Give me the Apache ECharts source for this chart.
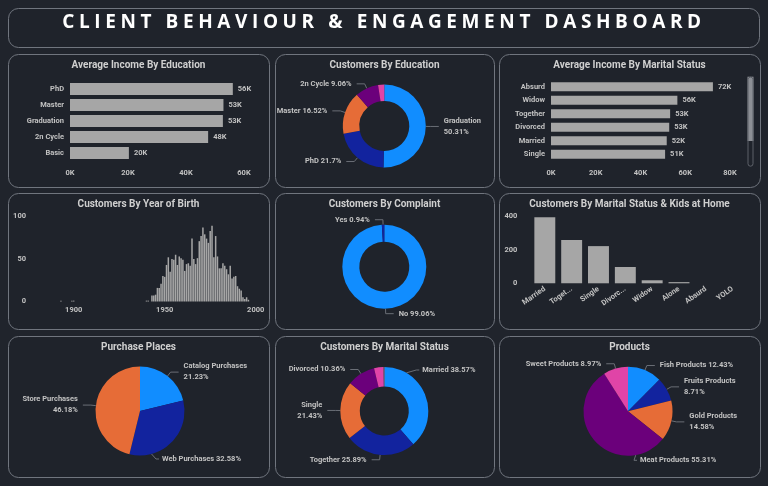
<!DOCTYPE html>
<html>
<head>
<meta charset="utf-8">
<script src="https://cdn.jsdelivr.net/npm/echarts@6/dist/echarts.min.js"></script>
<style>
html, body { margin: 0; padding: 0; background: #20242c; }
#main { width: 768px; height: 486px; position: relative; }
#chart { width: 768px; height: 486px; }
#title {
  position: absolute; left: 8px; top: 8px; width: 752px; height: 39px; line-height: 39px;
  text-align: center; color: #ffffff; font: bold 19px 'Open Sans', sans-serif;
  letter-spacing: 4.6px; pointer-events: none;
}
</style>
</head>
<body>
<div id="main">
  <div id="chart"></div>
  <div id="title">CLIENT BEHAVIOUR &amp; ENGAGEMENT DASHBOARD</div>
</div>
<script>
// ---- data ----
var eduIncomeCats = ['PhD', 'Master', 'Graduation', '2n Cycle', 'Basic'];
var eduIncome = [56145, 52917, 52720, 47633, 20306];

var eduCats = ['Graduation', 'PhD', 'Master', '2n Cycle', 'Basic'];
var eduCounts = [1127, 486, 370, 203, 54];

var maritalIncomeCats = ['Absurd', 'Widow', 'Together', 'Divorced', 'Married', 'Single', 'YOLO', 'Alone'];
var maritalIncome = [72365, 56481, 53245, 52834, 51724, 50995, 48432, 43789];

var birthYears = [1893, 1899, 1900, 1940, 1941, 1943, 1944, 1945, 1946, 1947, 1948, 1949,
  1950, 1951, 1952, 1953, 1954, 1955, 1956, 1957, 1958, 1959,
  1960, 1961, 1962, 1963, 1964, 1965, 1966, 1967, 1968, 1969,
  1970, 1971, 1972, 1973, 1974, 1975, 1976, 1977, 1978, 1979,
  1980, 1981, 1982, 1983, 1984, 1985, 1986, 1987, 1988, 1989,
  1990, 1991, 1992, 1993, 1994, 1995, 1996];
var birthCounts = [1, 1, 1, 1, 1, 7, 7, 8, 16, 16, 21, 30,
  29, 43, 52, 35, 50, 49, 55, 43, 53, 51,
  49, 36, 44, 45, 42, 74, 50, 44, 51, 71,
  77, 87, 79, 74, 69, 83, 89, 52, 77, 53,
  39, 39, 45, 42, 38, 32, 42, 27, 29, 30,
  18, 15, 13, 5, 3, 5, 2];
var birthTicks = [1900, 1950, 2000];

var complaintCats = ['No', 'Yes'];
var complaintCounts = [2219, 21];

var kidsCats = ['Married', 'Together', 'Single', 'Divorced', 'Widow', 'Alone', 'Absurd', 'YOLO'];
var kidsCounts = [392, 257, 221, 97, 18, 7, 0, 0];

var placeCats = ['Catalog Purchases', 'Web Purchases', 'Store Purchases'];
var placeCounts = [5963, 9150, 12970];

var maritalCats = ['Married', 'Together', 'Single', 'Divorced', 'Widow', 'Alone', 'Absurd', 'YOLO'];
var maritalCounts = [864, 580, 480, 232, 77, 3, 2, 2];

var productCats = ['Fish Products', 'Fruits Products', 'Gold Products', 'Meat Products', 'Sweet Products'];
var productShares = [12.43, 8.71, 14.58, 55.31, 8.97];

// ---- style ----
var FONT = "Roboto, 'DejaVu Sans Condensed', sans-serif";
var palette = ['#118dff', '#12239e', '#e66c37', '#6b007b', '#e044a7', '#744ec2', '#d9b300', '#d64550'];
var textCol = '#c2c2c2';
var barCol = '#a6a6a6';

var panels = [
  [8, 54, 261, 133, 'Average Income By Education'],
  [275, 54, 219, 133, 'Customers By Education'],
  [499, 54, 261, 133, 'Average Income By Marital Status'],
  [8, 193, 261, 136, 'Customers By Year of Birth'],
  [275, 193, 219, 136, 'Customers By Complaint'],
  [499, 193, 261, 136, 'Customers By Marital Status & Kids at Home'],
  [8, 336, 261, 141, 'Purchase Places'],
  [275, 336, 219, 141, 'Customers By Marital Status'],
  [499, 336, 261, 141, 'Products']
];

var graphics = [{
  type: 'rect', z: 0, shape: { x: 8.5, y: 8.5, width: 751, height: 39, r: 10 },
  style: { fill: '#1f232b', stroke: '#70757e', lineWidth: 1 }
}];
panels.forEach(function (p) {
  graphics.push({
    type: 'rect', z: 0, shape: { x: p[0] + 0.5, y: p[1] + 0.5, width: p[2], height: p[3], r: 10 },
    style: { fill: '#1f232b', stroke: '#70757e', lineWidth: 1 }
  });
  graphics.push({
    type: 'text', z: 1, x: p[0] + p[2] / 2, y: p[1] + 11,
    style: { text: p[4], align: 'center', verticalAlign: 'middle', fill: '#cfcfcf',
      font: 'bold 10px ' + FONT }
  });
});

function kFmt(v) { return Math.round(v / 1000) + 'K'; }

function pct(v, total) { return +(v / total * 100).toFixed(2); }

// moves one pie label below/beside the pie like Power BI does
// deg = angle (clockwise from top) where the leader line leaves the pie
function sideLabel(center, r, deg, dx, dy) {
  var a = deg * Math.PI / 180;
  var sx = center[0] + r * Math.sin(a), sy = center[1] - r * Math.cos(a);
  var lx = center[0] + dx, ly = center[1] + dy;
  return {
    x: lx, y: ly, align: 'left', verticalAlign: 'middle',
    labelLinePoints: [[sx, sy], [lx - 6, ly], [lx - 3, ly]]
  };
}

// pie / donut helper
function pieSeries(cats, vals, center, radius, wrap, hide, moved) {
  var total = vals.reduce(function (a, b) { return a + b; }, 0);
  return {
    type: 'pie', center: center, radius: radius, startAngle: 90, clockwise: true,
    silent: true, avoidLabelOverlap: true,
    label: {
      color: textCol, fontSize: 7.5, fontWeight: 'bold', lineHeight: 11,
      formatter: function (p) {
        return p.name + (wrap.indexOf(p.name) >= 0 ? '\n' : ' ') + pct(p.value, total) + '%';
      }
    },
    labelLine: { length: 5, length2: 8, lineStyle: { color: '#6a6e76', width: 1 } },
    labelLayout: function (params) {
      var m = moved && moved[params.dataIndex];
      if (!m) return {};
      return sideLabel(center, radius[1], m[0], m[1], m[2]);
    },
    data: cats.map(function (c, i) {
      var d = { name: c, value: vals[i], itemStyle: { color: palette[i] } };
      if (hide.indexOf(c) >= 0) { d.label = { show: false }; d.labelLine = { show: false }; }
      return d;
    })
  };
}

var axisLbl = { color: textCol, fontSize: 7.5, fontWeight: 'bold' };

var chart = echarts.init(document.getElementById('chart'));
chart.setOption({
  backgroundColor: '#20242c',
  textStyle: { fontFamily: FONT },
  animation: false,
  graphic: graphics,
  grid: [
    { left: 70, top: 81, width: 174, height: 80 },          // income by education
    { left: 551, top: 80, width: 179, height: 81 },         // income by marital
    { left: 30, top: 216.5, width: 225.7, height: 85 },     // year of birth
    { left: 531.4, top: 216, width: 214.7, height: 67.3 }   // kids at home
  ],
  xAxis: [
    { gridIndex: 0, type: 'value', min: 0, max: 60000, interval: 20000,
      axisLabel: Object.assign({ formatter: kFmt, margin: 8 }, axisLbl),
      axisLine: { show: false }, axisTick: { show: false }, splitLine: { show: false } },
    { gridIndex: 1, type: 'value', min: 0, max: 80000, interval: 20000,
      axisLabel: Object.assign({ formatter: kFmt, margin: 8 }, axisLbl),
      axisLine: { show: false }, axisTick: { show: false }, splitLine: { show: false } },
    { gridIndex: 2, type: 'value', min: 1876, max: 2000,
      axisLabel: Object.assign({ customValues: birthTicks, margin: 5, formatter: function (v) { return String(v); } }, axisLbl),
      axisLine: { show: false }, axisTick: { show: false }, splitLine: { show: false } },
    { gridIndex: 3, type: 'category', data: kidsCats,
      axisLabel: Object.assign({ rotate: 35, margin: 5, interval: 0, width: 29, overflow: 'truncate', ellipsis: '...' }, axisLbl),
      axisLine: { show: false }, axisTick: { show: false } }
  ],
  yAxis: [
    { gridIndex: 0, type: 'category', inverse: true, data: eduIncomeCats,
      axisLabel: Object.assign({ margin: 6 }, axisLbl),
      axisLine: { show: false }, axisTick: { show: false } },
    { gridIndex: 1, type: 'category', inverse: true, data: maritalIncomeCats,
      axisLabel: Object.assign({ margin: 6 }, axisLbl),
      axisLine: { show: false }, axisTick: { show: false } },
    { gridIndex: 2, type: 'value', min: 0, max: 100, interval: 50,
      axisLabel: Object.assign({ margin: 4 }, axisLbl),
      axisLine: { show: false }, axisTick: { show: false }, splitLine: { show: false } },
    { gridIndex: 3, type: 'value', min: 0, max: 400, interval: 200,
      axisLabel: Object.assign({ margin: 14 }, axisLbl),
      axisLine: { show: false }, axisTick: { show: false }, splitLine: { show: false } }
  ],
  dataZoom: [{
    type: 'slider', yAxisIndex: 1, orient: 'vertical', startValue: 0, endValue: 5,
    left: 747, top: 76, width: 6, height: 90,
    showDetail: false, showDataShadow: false, brushSelect: false, zoomLock: true,
    handleSize: 0, moveHandleSize: 0, handleStyle: { opacity: 0 },
    backgroundColor: 'rgba(0,0,0,0)', borderColor: '#5d6169', borderRadius: 3,
    fillerColor: '#8c8f95', filterMode: 'filter'
  }],
  series: [
    { type: 'bar', xAxisIndex: 0, yAxisIndex: 0, data: eduIncome, barWidth: 12, silent: true,
      itemStyle: { color: barCol },
      label: Object.assign({ show: true, position: 'right', distance: 5, formatter: function (p) { return kFmt(p.value); } }, axisLbl) },
    { type: 'bar', xAxisIndex: 1, yAxisIndex: 1, data: maritalIncome, barWidth: 9, silent: true,
      itemStyle: { color: barCol },
      label: Object.assign({ show: true, position: 'right', distance: 5, formatter: function (p) { return kFmt(p.value); } }, axisLbl) },
    { type: 'bar', xAxisIndex: 2, yAxisIndex: 2, barWidth: 1.5, silent: true,
      itemStyle: { color: barCol },
      data: birthYears.map(function (y, i) { return [y, birthCounts[i]]; }) },
    { type: 'bar', xAxisIndex: 3, yAxisIndex: 3, data: kidsCounts, barWidth: '78%', silent: true,
      itemStyle: { color: barCol } },
    pieSeries(eduCats, eduCounts, [384.3, 126], [25, 41.5], ['Graduation'], ['Basic']),
    pieSeries(complaintCats, complaintCounts, [384.3, 266.7], [25, 42], [], []),
    pieSeries(placeCats, placeCounts, [140, 411], [0, 44.5], ['Catalog Purchases', 'Store Purchases'], [],
      { 1: [165, 22, 48] }),
    pieSeries(maritalCats, maritalCounts, [384.3, 411], [24.5, 44], ['Single'], ['Widow', 'Alone', 'Absurd', 'YOLO'],
      { 0: [30, 38, -41] }),
    pieSeries(productCats, productShares, [628, 411.3], [0, 44.5], ['Fruits Products', 'Gold Products'], [],
      { 3: [170, 12, 49] })
  ]
});
</script>
</body>
</html>
